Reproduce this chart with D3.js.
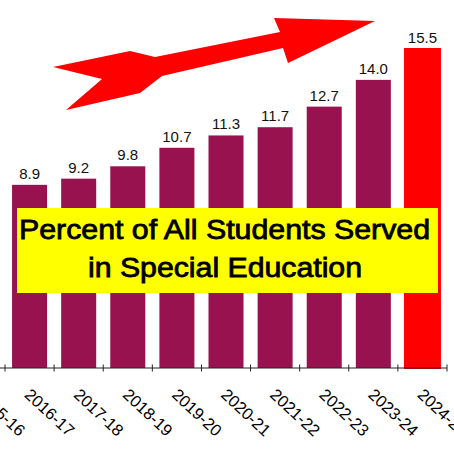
<!DOCTYPE html>
<html>
<head>
<meta charset="utf-8">
<script src="https://cdn.jsdelivr.net/npm/d3@7"></script>
<style>
  html, body { margin: 0; padding: 0; background: #fff; }
  svg { display: block; }
</style>
</head>
<body>
<script>
// ---- data ----
const categories = ["2015-16","2016-17","2017-18","2018-19","2019-20","2020-21","2021-22","2022-23","2023-24","2024-25"];
const values = [null, 8.9, 9.2, 9.8, 10.7, 11.3, 11.7, 12.7, 14.0, 15.5];
const valueLabels = ["", "8.9", "9.2", "9.8", "10.7", "11.3", "11.7", "12.7", "14.0", "15.5"];
const highlight = ["2024-25"];
const titleLines = ["Percent of All Students Served", "in Special Education"];

const W = 454, H = 454;
const svg = d3.select("body").append("svg").attr("width", W).attr("height", H);

const x = d3.scaleBand().domain(categories).range([-44.1, 447]).paddingInner(0.287).paddingOuter(0.1435);
const y = d3.scaleLinear().domain([0, 15.5]).range([368, 49]);

const data = categories.map((c, i) => ({ c, v: values[i], lab: valueLabels[i] })).filter(d => d.v != null);

// bars
svg.selectAll("rect.bar").data(data).enter().append("rect")
  .attr("class", "bar")
  .attr("x", d => x(d.c))
  .attr("width", x.bandwidth())
  .attr("y", d => y(d.v))
  .attr("height", d => y(0) - y(d.v))
  .attr("fill", d => highlight.includes(d.c) ? "#ff0000" : "#98124f")
  .attr("stroke", d => highlight.includes(d.c) ? "#ff0000" : "none")
  .attr("stroke-width", 2);

// value labels
svg.selectAll("text.val").data(data).enter().append("text")
  .attr("class", "val")
  .attr("x", d => x(d.c) + x.bandwidth() / 2)
  .attr("y", d => y(d.v) - 6)
  .attr("text-anchor", "middle")
  .attr("font-family", "Liberation Sans, Arial, Helvetica, sans-serif")
  .attr("font-size", 15)
  .attr("fill", "#111")
  .text(d => d.lab);

// x axis: ticks at band boundaries
const axisG = svg.append("g");
axisG.append("line").attr("x1", 0).attr("x2", 447).attr("y1", 368).attr("y2", 368)
  .attr("stroke", "#222").attr("stroke-width", 1);
const boundaries = categories.map(c => x(c) - x.step() * x.paddingInner() / 2).concat([447]);
axisG.selectAll("line.tick").data(boundaries).enter().append("line")
  .attr("class", "tick")
  .attr("x1", d => d).attr("x2", d => d)
  .attr("y1", 364.5).attr("y2", 371.5)
  .attr("stroke", "#222").attr("stroke-width", 1);
axisG.selectAll("text.xl").data(categories).enter().append("text")
  .attr("class", "xl")
  .attr("transform", c => `translate(${x(c) + x.bandwidth() / 2 - 6},396) rotate(43)`)
  .attr("font-family", "Liberation Sans, Arial, Helvetica, sans-serif")
  .attr("font-size", 16.5)
  .attr("fill", "#000")
  .text(c => c);

// red arrow annotation
const arrowPts = [[53,67],[130,51],[155,57],[280,32],[274,18],[375,21],[288,63],[283,48],[162,76],[140,93],[66,110],[102,79]];
svg.append("path")
  .attr("d", d3.line()(arrowPts) + "Z")
  .attr("fill", "#ff0000");

// yellow title box
svg.append("rect").attr("x", 17).attr("y", 208).attr("width", 421).attr("height", 85).attr("fill", "#ffff00");
svg.append("text")
  .attr("x", 19).attr("y", 239)
  .attr("textLength", 411).attr("lengthAdjust", "spacingAndGlyphs")
  .attr("font-family", "Liberation Sans Narrow, Arial Narrow, Liberation Sans, Arial, sans-serif")
  .attr("font-size", 27)
  .attr("stroke", "#000").attr("stroke-width", 0.8)
  .attr("fill", "#000")
  .text(titleLines[0]);
svg.append("text")
  .attr("x", 88).attr("y", 277)
  .attr("textLength", 274).attr("lengthAdjust", "spacingAndGlyphs")
  .attr("font-family", "Liberation Sans Narrow, Arial Narrow, Liberation Sans, Arial, sans-serif")
  .attr("font-size", 27)
  .attr("stroke", "#000").attr("stroke-width", 0.8)
  .attr("fill", "#000")
  .text(titleLines[1]);
</script>
</body>
</html>
